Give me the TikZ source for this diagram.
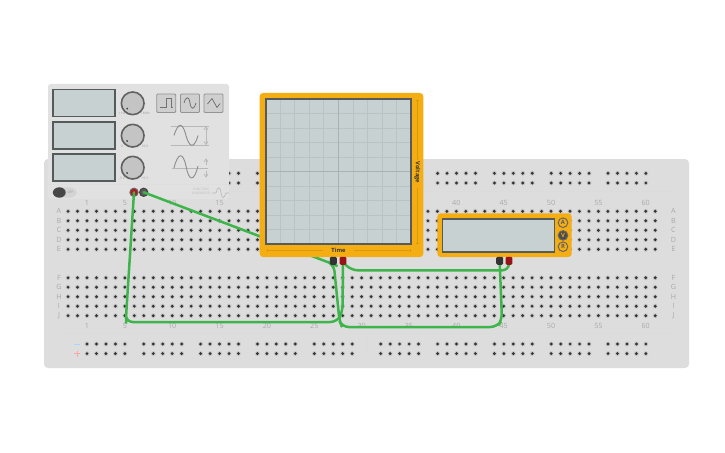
\documentclass[tikz,border=0pt]{standalone}
\usepackage{fontspec}
\setmainfont{Open Sans}
\usetikzlibrary{calc}
\definecolor{board}{HTML}{DDDDDD}
\definecolor{genbody}{HTML}{E1E1E1}
\definecolor{lcd}{HTML}{C8D1D2}
\definecolor{lcdedge}{HTML}{555A5A}
\definecolor{orangebody}{HTML}{F4AE14}
\definecolor{orangeline}{HTML}{D99A10}
\definecolor{wire}{HTML}{3DB54A}
\definecolor{holec}{HTML}{333333}
\definecolor{haloc}{HTML}{C9C9C9}
\definecolor{labelc}{HTML}{A9A9A9}
\definecolor{redpin}{HTML}{B3161B}
\definecolor{gridc}{HTML}{B9C3C4}
\definecolor{gridmid}{HTML}{A8B2B3}
\tikzset{
  x=0.75pt,y=-0.75pt,
  px/.style={line width=#1*0.75pt},
  hole/.style={fill=holec,draw=none},
  halo/.style={fill=haloc,draw=none},
  boardlabel/.style={text=labelc,font=\fontsize{5.4}{6}\selectfont,inner sep=0pt},
  lcdbox/.style={fill=lcd,draw=lcdedge,px=1.6},
  knob/.style={circle,minimum size=17pt,inner sep=0pt,fill=black!23,draw=black!62,px=1.6},
  wavebtn/.style={rounded corners=0.8pt,fill=black!19,draw=black!42,px=0.9},
  icon/.style={draw=black!55,px=0.8},
  thin icon/.style={draw=black!28,px=0.7},
  tiny/.style={text=black!40,font=\fontsize{2.4}{3}\selectfont,inner sep=0pt,align=center},
  wirepath/.style={draw=wire,px=2.5,rounded corners=5pt,line cap=round},
  pin/.style={circle,minimum size=6.2pt,inner sep=0pt,px=1},
  plug/.style={minimum width=5.2pt,minimum height=6pt,inner sep=0pt,rounded corners=1pt},
  mbtn/.style={circle,minimum size=7.2pt,inner sep=0pt,draw=black!60,px=1,font=\fontsize{4.4}{5}\selectfont\bfseries,text=black!65},
}
\newcommand{\holedot}[2]{\fill[halo] (#1,#2) circle (2.5);\fill[hole] (#1,#2) circle (1.6);}
\newcommand{\holerow}[3]{% y, from col, to col
  \foreach \c in {#2,...,#3}{\holedot{{87+9.47*(\c-1)}}{#1}}}
\newcommand{\railgroup}[2]{% y, start x
  \foreach \i in {0,...,4}{\holedot{{#2+9.47*\i}}{#1}}}
\begin{document}
\begin{tikzpicture}
\useasboundingbox (0,0) rectangle (725,453);
\fill[white] (0,0) rectangle (725,453);
% breadboard
\fill[board,rounded corners=3pt] (44,159) rectangle (689,368);
\draw[black!14,px=0.8] (60,191.7) -- (672,191.7);
\draw[black!14,px=0.8] (60,333) -- (672,333);
\draw[black!14,px=0.8] (367,334) -- (367,355);
\draw[black!14,px=0.8] (367,165) -- (367,186);
\foreach \y in {211.3,220.8,230.3,239.8,249.3,277.8,287.2,296.7,306.2,315.7}{\holerow{\y}{-1}{61}}
\foreach \y in {173.3,183,344,353.6}{
  \foreach \x in {87,143.8,200.6,257.4,314.3,380.7,437.6,494.4,551.2,608}{\railgroup{\y}{\x}}}
\foreach \c in {1,5,10,15,20,25,30,35,40,45,50,55,60}{
  \node[boardlabel] (t\c) at ({87+9.47*(\c-1)},202.7) {\c};
  \node[boardlabel] (b\c) at ({87+9.47*(\c-1)},325.7) {\c};}
\foreach \l/\y in {A/211.3,B/220.8,C/230.3,D/239.8,E/249.3,F/277.8,G/287.2,H/296.7,I/306.2,J/315.7}{
  \node[boardlabel] (l\l) at (59,\y) {\l};
  \node[boardlabel] (r\l) at (673.5,\y) {\l};}
\draw[blue!45!cyan!35,px=1] (74,344) -- (80,344);
\draw[red!35,px=1] (74,353.6) -- (80,353.6) (77,350.6) -- (77,356.6);
% function generator
\fill[genbody,rounded corners=2pt] (48,84) rectangle (229,199);
\draw[black!13,px=0.8] (48,184.3) -- (229,184.3);
\draw[lcdbox] (53,89.5) rectangle (115,116.5);
\draw[lcdbox] (53,122) rectangle (115,149);
\draw[lcdbox] (53,154) rectangle (115,181);
\node[knob] (k1) at (132.7,103.3) {};
\node[knob] (k2) at (132.7,135.7) {};
\node[knob] (k3) at (132.7,167.7) {};
\foreach \k in {k1,k2,k3}{\fill[black!75] ($(\k)+(-5.5,5.3)$) circle (1);}
\node[tiny] (k1a) at (122,113.8) {1 Hz};
\node[tiny] (k1b) at (145,113.8) {1 MHz};
\node[tiny] (k2a) at (122,146) {0};
\node[tiny] (k2b) at (145,146) {10 V};
\node[tiny] (k3a) at (122,178) {-5 V};
\node[tiny] (k3b) at (145,178) {+5 V};
\draw[wavebtn] (156.7,94) rectangle (175.7,112.5);
\draw[wavebtn] (180.5,94) rectangle (199.5,112.5);
\draw[wavebtn] (204,94) rectangle (223,112.5);
\draw[icon] (160,107.5) -- (166,107.5) -- (166,98.5) -- (171.5,98.5) -- (171.5,107.5) -- (173,107.5);
\draw[icon] (184,103) .. controls (186,96) and (189,96) .. (190,103) .. controls (191,110) and (194,110) .. (196,103);
\draw[icon] (207.5,104) -- (212,98.5) -- (217,107.5) -- (220,103.5);
% amplitude icon
\draw[thin icon] (170.7,126) -- (209,126) (170.7,145.3) -- (209,145.3);
\draw[draw=black!45,px=0.9] (174,135.5) .. controls (179,120) and (183,124) .. (186,135.5) .. controls (189,147) and (194,150) .. (198,135.5);
\draw[thin icon] (206,127.5) -- (206,144);
\draw[thin icon] (204,130) -- (206,127) -- (208,130) (204,141.5) -- (206,144.5) -- (208,141.5);
% offset icon
\draw[thin icon] (172,168) -- (208,168);
\draw[draw=black!45,px=0.9] (174,168) .. controls (178,152) and (183,152) .. (186,166) .. controls (189,182) and (194,182) .. (198,166);
\draw[thin icon] (206,160) -- (206,165) (206,171) -- (206,176);
\draw[thin icon] (204,162) -- (206,159) -- (208,162) (204,174) -- (206,177) -- (208,174);
% switch
\fill[black!17,rounded corners=5pt] (52.7,187.3) rectangle (76.7,197.7);
\fill[black!72] (59.3,192.5) ellipse (6.4 and 5.2);
\node[tiny] (offl) at (70.5,192.6) {OFF};
\node[tiny,text=black!25] (brand) at (201,191.5) {FUNCTION\\GENERATOR};
\draw[black!28,px=0.6] (212,193) -- (216,193) .. controls (218,186) and (220,186) .. (221,193) .. controls (222,199) and (224,199) .. (226,193) -- (229,193);
% generator terminals
\node[pin,fill=redpin,draw=black!60] (genred) at (134,192.3) {};
\node[pin,fill=black!65,draw=black!75] (genblk) at (143.7,192.3) {};
% plugs (named anchors for the connectors)
\coordinate (scopeblk) at (333.3,262);
\coordinate (scopered) at (343,262);
\coordinate (meterblk) at (499.7,262);
\coordinate (meterred) at (509,262);
% wires
\draw[wirepath] (genred.center) -- (126,317) -- (126,322) -- (337,322) -- (342.5,312) -- (scopered);
\draw[wirepath] (genblk.center) -- (331.5,263.5) -- (333.8,264.5) -- (339.5,321) -- (342,327) -- (497,327) -- (502,320) -- (meterblk);
\draw[wirepath] (scopered) -- (351,270.3) -- (509,270.3) -- (meterred);
% oscilloscope
\fill[orangebody,rounded corners=2.5pt] (259.7,93) rectangle (423.3,257);
\fill[lcd] (265.7,99.3) rectangle (411,244.3);
\foreach \i in {1,...,9}{
  \draw[gridc,px=0.7] ({265.7+14.53*\i},99.3) -- ({265.7+14.53*\i},244.3);
  \draw[gridc,px=0.7] (265.7,{99.3+14.5*\i}) -- (411,{99.3+14.5*\i});}
\draw[gridmid,px=0.8] (338.35,99.3) -- (338.35,244.3) (265.7,171.8) -- (411,171.8);
\draw[lcdedge,px=1.7] (265.7,99.3) rectangle (411,244.3);
\draw[orangeline,px=0.8] (415.7,100) -- (418.9,100) (417.3,100) -- (417.3,160) (417.3,188) -- (417.3,243) (415.7,243) -- (418.9,243);
\draw[orangeline,px=0.8] (267,249) -- (267,252.4) (267,250.7) -- (322.7,250.7) (354,250.7) -- (410,250.7) (410,249) -- (410,252.4);
\node[inner sep=0pt,text=black!80,font=\fontsize{4.3}{5}\selectfont\bfseries] (timel) at (338.5,250.6) {Time};
\node[inner sep=0pt,text=black!80,font=\fontsize{4.3}{5}\selectfont\bfseries,rotate=-90] (voltl) at (417.3,172.5) {Voltage};
\node[plug,fill=black!80,anchor=north] (sb) at (333.3,256.5) {};
\node[plug,fill=redpin!85!black,anchor=north] (sr) at (343,256.5) {};
% multimeter
\fill[orangebody,rounded corners=2.5pt] (437.3,213.3) rectangle (571.7,257);
\draw[lcdbox] (442.3,218.7) rectangle (554.3,251.7);
\node[mbtn] (ma) at (563,222.7) {A};
\node[mbtn,fill=black!70,text=orangebody] (mv) at (563,235.4) {V};
\node[mbtn] (mr) at (563,246.7) {R};
\node[plug,fill=black!80,anchor=north] (mb) at (499.7,256.5) {};
\node[plug,fill=redpin!85!black,anchor=north] (mrd) at (509,256.5) {};
\end{tikzpicture}
\end{document}
